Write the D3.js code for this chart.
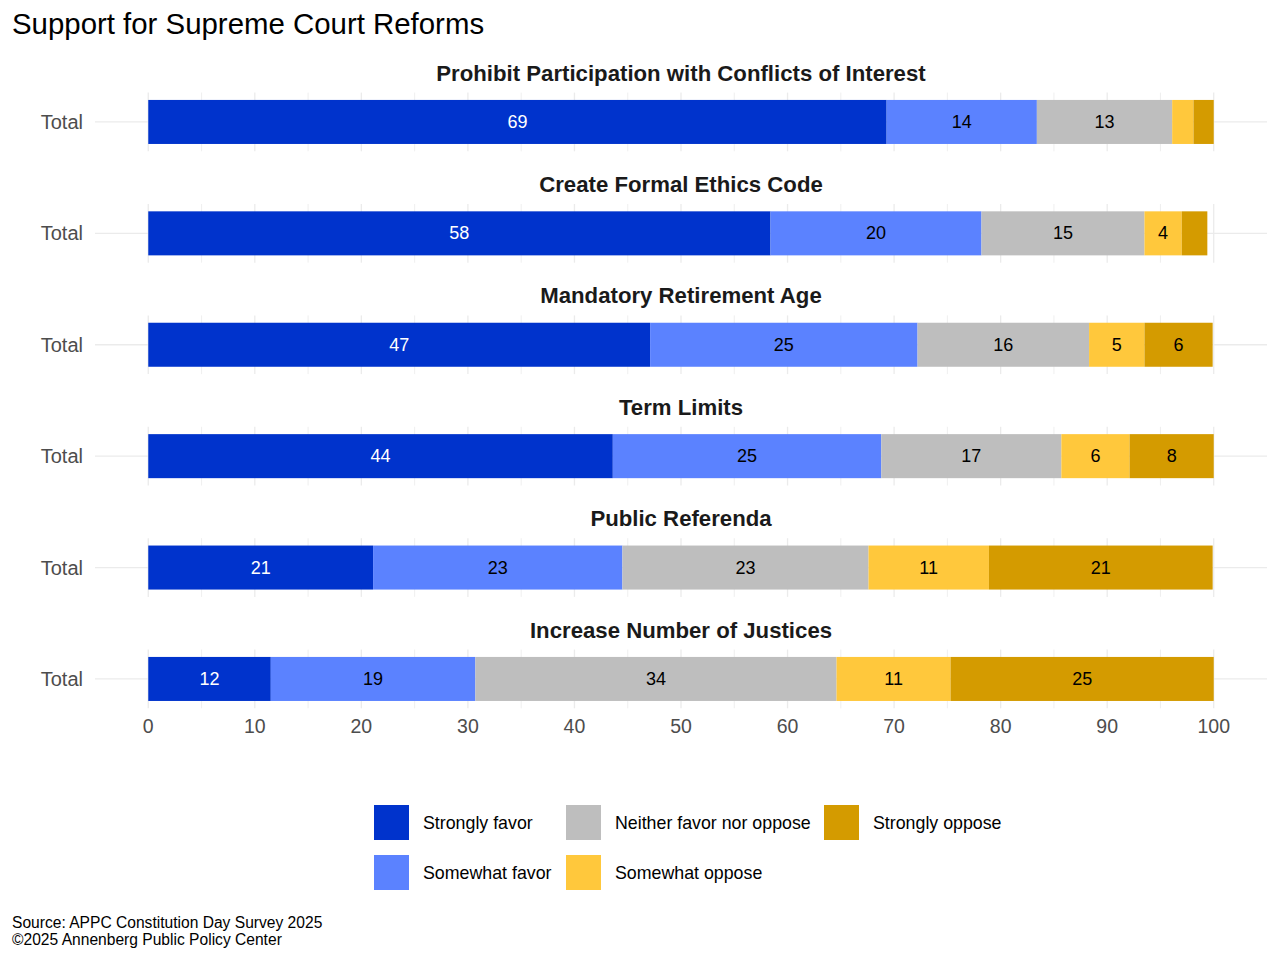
<!DOCTYPE html>
<html>
<head>
<meta charset="utf-8">
<script src="https://cdn.jsdelivr.net/npm/d3@7"></script>
<style>
  body { margin: 0; background: #fff; }
  text { font-family: "Liberation Sans", Arial, Helvetica, sans-serif; }
</style>
</head>
<body>
<div id="chart"></div>
<script>
// Data
const reforms = [
  "Prohibit Participation with Conflicts of Interest",
  "Create Formal Ethics Code",
  "Mandatory Retirement Age",
  "Term Limits",
  "Public Referenda",
  "Increase Number of Justices"
];
const responses = ["Strongly favor", "Somewhat favor", "Neither favor nor oppose", "Somewhat oppose", "Strongly oppose"];
const stronglyFavor  = [69.3, 58.4, 47.1, 43.6, 21.1, 11.5];
const somewhatFavor  = [14.1, 19.8, 25.1, 25.2, 23.4, 19.2];
const neither        = [12.7, 15.3, 16.1, 16.9, 23.1, 33.9];
const somewhatOppose = [2.0, 3.5, 5.2, 6.4, 11.3, 10.7];
const stronglyOppose = [1.9, 2.4, 6.4, 7.9, 21.0, 24.7];
const xTicks = [0, 10, 20, 30, 40, 50, 60, 70, 80, 90, 100];
const colors = ["#0033cc", "#5b82ff", "#bebebe", "#ffc83c", "#d49b00"];

const width = 1280;
const height = 960;
const marginLeft = 95;
const marginRight = 13;
const firstPanelTop = 92.6;
const facetStep = 111.4;
const panelHeight = 58.7;

const series = [stronglyFavor, somewhatFavor, neither, somewhatOppose, stronglyOppose];

const x = d3.scaleLinear()
    .domain([-5, 105])
    .range([marginLeft, width - marginRight]);

const color = d3.scaleOrdinal().domain(responses).range(colors);

const svg = d3.select("#chart").append("svg")
    .attr("width", width)
    .attr("height", height);

// Title
svg.append("text")
    .attr("x", 12)
    .attr("y", 33.5)
    .attr("font-size", 29.4)
    .attr("fill", "#000")
    .text("Support for Supreme Court Reforms");

reforms.forEach((reform, i) => {
  const top = firstPanelTop + i * facetStep;
  const g = svg.append("g");

  const y = d3.scaleBand()
      .domain(["Total"])
      .range([top, top + panelHeight])
      .paddingInner(0.1)
      .paddingOuter(0.15);

  // minor + major vertical gridlines
  g.selectAll(".minor")
    .data(d3.range(5, 100, 10))
    .join("line")
      .attr("x1", d => x(d)).attr("x2", d => x(d))
      .attr("y1", top).attr("y2", top + panelHeight)
      .attr("stroke", "#ebebeb").attr("stroke-width", 0.8);
  g.selectAll(".major")
    .data(xTicks)
    .join("line")
      .attr("x1", d => x(d)).attr("x2", d => x(d))
      .attr("y1", top).attr("y2", top + panelHeight)
      .attr("stroke", "#ebebeb").attr("stroke-width", 1.3);
  g.append("line")
      .attr("x1", x(-5)).attr("x2", x(105))
      .attr("y1", y("Total") + y.bandwidth() / 2)
      .attr("y2", y("Total") + y.bandwidth() / 2)
      .attr("stroke", "#ebebeb").attr("stroke-width", 1.3);

  // strip title
  svg.append("text")
      .attr("x", (x(-5) + x(105)) / 2)
      .attr("y", top - 19.5)
      .attr("text-anchor", "middle")
      .attr("dominant-baseline", "central")
      .attr("font-size", 22.2)
      .attr("font-weight", "bold")
      .attr("fill", "#1a1a1a")
      .text(reform);

  // y-axis label
  svg.append("text")
      .attr("x", 83)
      .attr("y", y("Total") + y.bandwidth() / 2)
      .attr("text-anchor", "end")
      .attr("dominant-baseline", "central")
      .attr("font-size", 20)
      .attr("fill", "#4d4d4d")
      .text("Total");

  // stacked segments
  let acc = 0;
  const segs = series.map((s, k) => {
    const seg = { key: responses[k], x0: acc, x1: acc + s[i], value: s[i] };
    acc += s[i];
    return seg;
  });

  g.selectAll("rect.seg")
    .data(segs)
    .join("rect")
      .attr("x", d => x(d.x0))
      .attr("width", d => x(d.x1) - x(d.x0))
      .attr("y", y("Total"))
      .attr("height", y.bandwidth())
      .attr("fill", d => color(d.key));

  g.selectAll("text.lab")
    .data(segs.filter(d => d.value >= 3))
    .join("text")
      .attr("x", d => x((d.x0 + d.x1) / 2))
      .attr("y", y("Total") + y.bandwidth() / 2)
      .attr("text-anchor", "middle")
      .attr("dominant-baseline", "central")
      .attr("font-size", 18)
      .attr("fill", d => d.key === "Strongly favor" ? "#fff" : "#000")
      .text(d => Math.round(d.value));
});

// x-axis tick labels below last panel
const lastBottom = firstPanelTop + 5 * facetStep + panelHeight;
svg.append("g")
  .selectAll("text")
  .data(xTicks)
  .join("text")
    .attr("x", d => x(d))
    .attr("y", lastBottom + 18)
    .attr("text-anchor", "middle")
    .attr("dominant-baseline", "central")
    .attr("font-size", 19.5)
    .attr("fill", "#4d4d4d")
    .text(d => d);

// Legend (column-major, 2 rows)
const legendCols = [374, 566, 824];
const legendRows = [805, 855];
const legend = svg.append("g");
responses.forEach((r, k) => {
  const cx = legendCols[Math.floor(k / 2)];
  const cy = legendRows[k % 2];
  legend.append("rect")
      .attr("x", cx).attr("y", cy)
      .attr("width", 35).attr("height", 35)
      .attr("fill", color(r));
  legend.append("text")
      .attr("x", cx + 49)
      .attr("y", cy + 18)
      .attr("dominant-baseline", "central")
      .attr("font-size", 17.8)
      .attr("fill", "#000")
      .text(r);
});

// Caption
svg.append("text")
    .attr("x", 12).attr("y", 928)
    .attr("font-size", 15.6)
    .attr("fill", "#000")
    .text("Source: APPC Constitution Day Survey 2025");
svg.append("text")
    .attr("x", 12).attr("y", 945)
    .attr("font-size", 15.6)
    .attr("fill", "#000")
    .text("©2025 Annenberg Public Policy Center");
</script>
</body>
</html>
